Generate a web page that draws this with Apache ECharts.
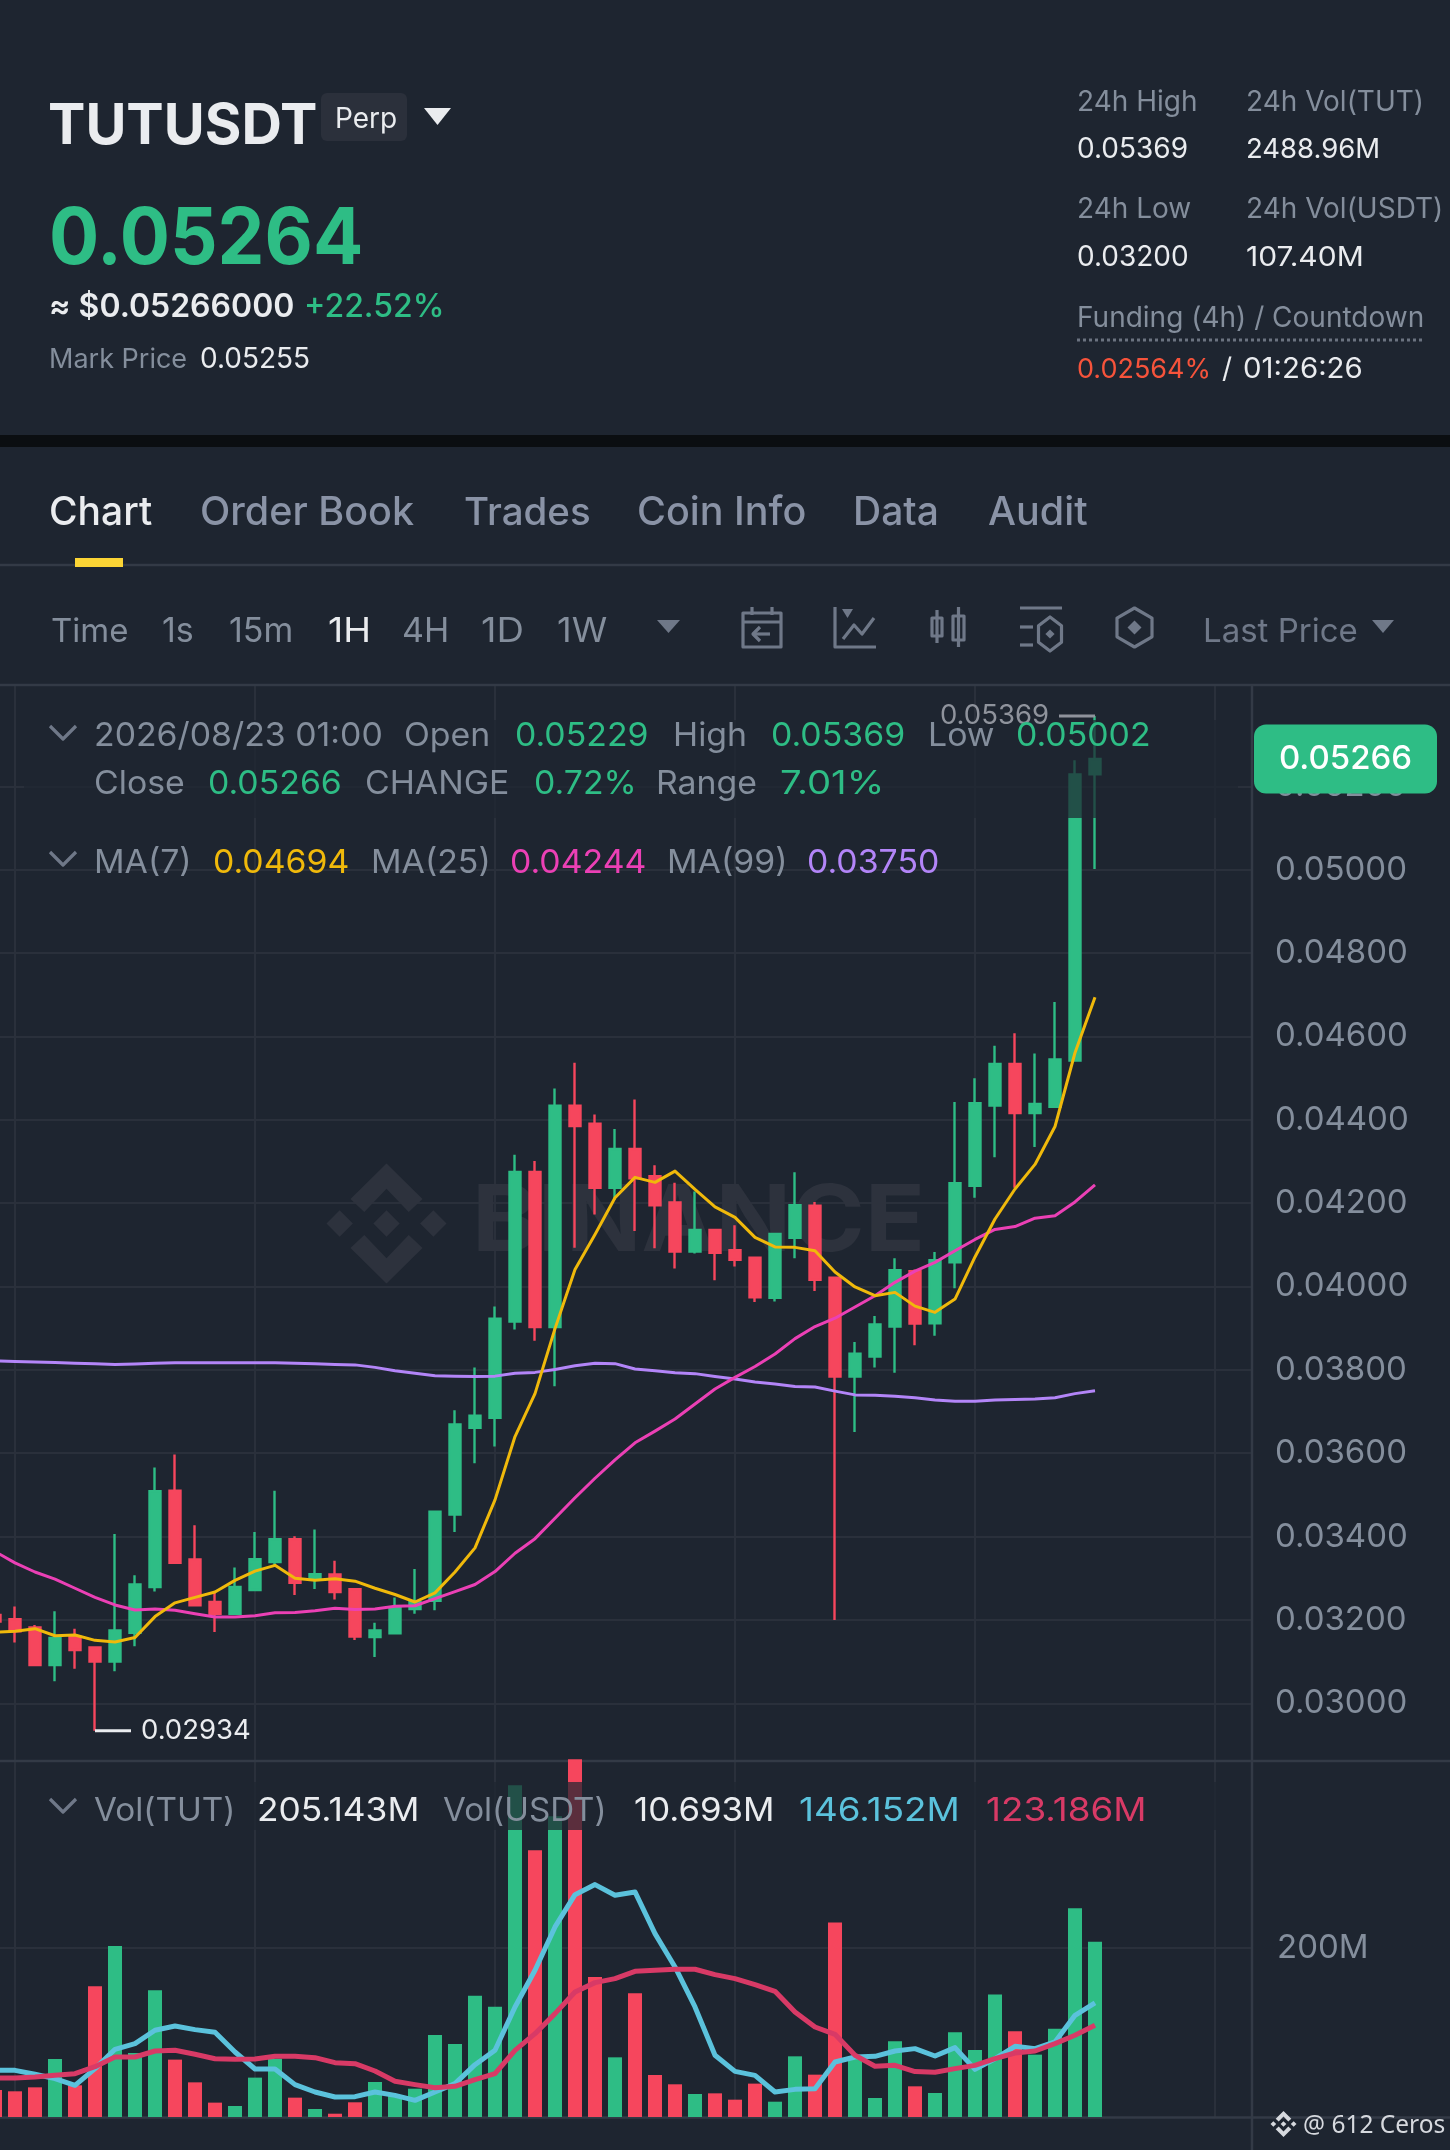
<!DOCTYPE html>
<html><head><meta charset="utf-8">
<style>html,body{margin:0;padding:0;background:#1E2530}#c{width:1450px;height:2150px}</style>
<script src="https://cdn.jsdelivr.net/npm/echarts@6/dist/echarts.min.js"></script>
</head><body><div id="c"></div>
<script>
// ---------- data ----------
const slots = [-1,0,1,2,3,4,5,6,7,8,9,10,11,12,13,14,15,16,17,18,19,20,21,22,23,24,25,26,27,28,29,30,31,32,33,34,35,36,37,38,39,40,41,42,43,44,45,46,47,48,49,50,51,52,53,54];
const opens = [.03212,.03202,.03182,.03092,.03159,.03134,.03100,.03169,.03279,.03510,.03345,.03243,.03215,.03272,.03339,.03394,.03298,.03309,.03274,.03159,.03168,.03226,.03246,.03453,.03661,.03685,.03916,.04275,.03903,.04434,.04391,.04237,.04330,.04265,.04202,.04084,.04136,.04087,.04069,.03973,.04117,.04194,.04021,.03784,.03832,.03904,.04037,.03912,.04058,.04242,.04434,.04534,.04416,.04431,.04542,.05229];
const closes = [.03196,.03173,.03092,.03157,.03128,.03100,.03175,.03285,.03509,.03337,.03235,.03215,.03279,.03346,.03394,.03289,.03310,.03267,.03160,.03175,.03229,.03243,.03460,.03669,.03690,.03923,.04275,.03903,.04434,.04385,.04237,.04330,.04260,.04195,.04084,.04136,.04081,.04064,.03974,.04126,.04195,.04016,.03784,.03839,.03909,.04039,.03911,.04063,.04248,.04440,.04534,.04416,.04438,.04545,.05229,.05266];
const lows = [.0318,.03146,.03091,.03053,.03083,.02934,.03077,.03137,.03268,.03337,.03232,.03171,.03212,.03272,.03329,.03260,.03274,.03249,.03152,.03111,.03168,.03215,.03223,.03411,.03576,.03616,.03897,.03870,.03761,.04093,.04173,.04208,.04133,.04092,.04043,.04079,.04015,.04048,.03963,.03964,.04068,.03989,.03200,.03651,.03806,.03793,.03859,.03882,.03996,.04213,.04310,.04237,.04335,.04431,.04542,.05002];
const highs = [.0322,.03232,.03188,.03221,.03179,.03134,.03406,.03307,.03566,.03597,.03427,.03265,.03326,.03411,.03510,.03401,.03417,.03342,.03274,.03193,.03254,.03322,.03460,.03703,.03806,.03952,.04316,.04301,.04475,.04537,.04413,.04378,.04449,.04291,.04249,.04228,.04136,.04147,.04069,.04126,.04274,.04203,.04022,.03867,.03929,.04068,.04041,.04083,.04443,.04500,.04578,.04608,.04559,.04683,.05263,.05369];
const ma7 = [.03170,.03173,.03179,.03162,.03164,.03151,.03147,.03158,.03208,.03241,.03254,.03267,.03295,.03317,.03331,.03300,.03295,.03299,.03293,.03276,.03261,.03243,.03265,.03315,.03373,.03488,.03640,.03743,.03899,.04041,.04125,.04213,.04262,.04250,.04277,.04233,.04191,.04166,.04118,.04095,.04094,.04086,.04035,.03999,.03978,.03986,.03953,.03938,.03970,.04071,.04162,.04234,.04293,.04384,.04561,.04694];
const ma25 = [.03364,.03337,.03315,.03298,.03276,.03254,.03236,.03224,.03226,.03223,.03215,.03207,.03207,.03210,.03217,.03218,.03222,.03228,.03225,.03226,.03233,.03234,.03251,.03268,.03285,.03316,.03360,.03395,.03444,.03493,.03540,.03584,.03625,.03653,.03682,.03718,.03754,.03782,.03808,.03838,.03875,.03904,.03924,.03951,.03978,.04010,.04037,.04058,.04086,.04113,.04137,.04144,.04164,.04170,.04203,.04244];
const ma99 = [.03822,.03820,.03819,.03818,.03816,.03815,.03813,.03814,.03816,.03817,.03817,.03817,.03817,.03817,.03817,.03816,.03815,.03813,.03812,.03806,.03798,.03792,.03786,.03785,.03784,.03785,.03792,.03794,.03801,.03810,.03816,.03815,.03802,.03798,.03793,.03791,.03784,.03778,.03771,.03766,.03760,.03759,.03749,.03740,.03739,.03737,.03733,.03728,.03725,.03725,.03728,.03729,.03730,.03733,.03743,.03750];
const volumes = [32,30.4,35.1,68.6,37.5,154.6,202.4,75.7,149.9,67.9,41,17,13,46.6,69,22.9,9.5,3.9,17.4,41.4,25.6,33.5,97,86.4,143.6,130.6,392.5,315.6,355.8,423.3,165.7,70.6,146.4,49.7,38.7,27.2,28,20.5,39.5,18.1,71.8,50.1,230,69,22.5,89.6,36.3,28.4,100.2,79.3,144.8,101.4,73.8,104.5,247,207.5];
const volMaFast = [55.2,55.2,50.5,45.4,37.5,57.2,80.1,86.8,102.6,107.7,103.4,100.2,76.9,56.8,56.8,38.3,29.6,23.7,24.1,29.6,25.6,19.7,29.6,39.5,61.9,78.9,130.2,173.6,224.9,263.1,275,262.3,266.3,217,177.5,130.2,73,54,49.3,29.6,32.7,33.5,65.1,71,71.8,78.1,80.9,72.2,82.1,56.4,69,83.6,80.9,88.8,120.3,134.9];
const volMaSlow = [46.2,46.2,47.3,49.3,51.3,59.6,71,71,78.1,78.9,74.2,69,68.2,68.6,71.8,71.8,70.2,64.3,63.1,54.4,42.2,38.3,34.7,36.3,44.2,51.3,78.9,98.6,122.3,147.9,159,163.7,172.4,173.6,174.8,174.8,168.5,163.7,156.6,148.7,124.3,106.5,97.8,73,60,61.1,53.7,52.9,57.2,61.1,69,75.7,78.1,86.8,96.7,108.5];
const priceTicks = [.03,.032,.034,.036,.038,.04,.042,.044,.046,.048,.05,.052];
const volumeTicks = [200];
const timeTicks = [0,12,24,36,48,60];
const lastClose = .05266, highMark = [54,.05369], lowMark = [4,.02934];

// ---------- style ----------
const FONT='Inter', GREEN='#2EBD85', RED='#F6465D', GRAY='#848E9C', WHITE='#EAECEF', BG='#1E2530', GRID='#2A303B', SEP='#333A46';
const ICON='#6F7888', TAB='#8A93A6';
const C={orange:'#F0B90B',pink:'#EB40B5',purple:'#B385F8',blue:'#5BC2DC',crimson:'#D83A66'};

const T=(x,base,text,size,fill,weight,sx,extra)=>({type:'text',x,y:base-size*.30,silent:true,z:60,scaleX:sx||1,
  style:Object.assign({text,fill,fontSize:size,fontWeight:weight||400,fontFamily:FONT,textVerticalAlign:'middle',textAlign:'left'},extra||{})});
const LG=(x,base,text,fill,sx)=>T(x,base,text,33,fill,400,sx||1.025);
const L=(x1,y1,x2,y2,stroke,w,z,extra)=>({type:'line',silent:true,z:z==null?60:z,shape:{x1,y1,x2,y2},style:Object.assign({stroke,lineWidth:w},extra||{})});
const R=(x,y,w,h,fill,z,r)=>({type:'rect',silent:true,z:z==null?60:z,shape:{x,y,width:w,height:h,r:r||0},style:{fill}});
const P=(pts,fill,z)=>({type:'polygon',silent:true,z:z==null?60:z,shape:{points:pts},style:{fill}});
const PL=(pts,stroke,w,z)=>({type:'polyline',silent:true,z:z==null?60:z,shape:{points:pts},style:{stroke,lineWidth:w,fill:'none',lineJoin:'round'}});
const SO=(pts,stroke,w)=>({type:'polygon',silent:true,z:60,shape:{points:pts},style:{stroke,lineWidth:w,fill:'none',lineJoin:'round'}});
const TRI=(x1,x2,y1,y2,fill)=>P([[x1,y1],[x2,y1],[(x1+x2)/2,y2]],fill);
const CHEV=(x1,x2,y1,y2)=>PL([[x1,y1],[(x1+x2)/2,y2],[x2,y1]],ICON,3.2);
function logo(cx,cy,rx,ry,fill,z){
  const m=(a)=>a.map(p=>[cx+p[0]*rx,cy+p[1]*ry]);
  const d=(x,h)=>m([[x,-h],[x+h,0],[x,h],[x-h,0]]);
  const top=[[0,-1],[.6,-.41],[.37,-.19],[0,-.58],[-.37,-.19],[-.6,-.41]];
  return [P(m(top),fill,z),P(m(top.map(p=>[p[0],-p[1]])),fill,z),P(d(0,.22),fill,z),P(d(-.78,.22),fill,z),P(d(.78,.22),fill,z)];
}
function hexIcon(cx,cy,w,h,lw){
  const a=w/2,b=h/2,c=h*.24;
  return [SO([[cx,cy-b],[cx+a,cy-c],[cx+a,cy+c],[cx,cy+b],[cx-a,cy+c],[cx-a,cy-c]],ICON,lw),
          P([[cx,cy-w*.2],[cx+w*.2,cy],[cx,cy+w*.2],[cx-w*.2,cy]],ICON)];
}

const statics=[
  // structure
  R(0,435,1450,12,'#0B0E11',1),
  L(0,565,1450,565,SEP,2.5,1), L(0,685,1450,685,SEP,2.5,1), L(0,1761,1450,1761,SEP,2.5,1), L(0,2117.5,1450,2117.5,SEP,2.5,1),
  L(1252,685,1252,2150,SEP,2.5,1),
  // watermark
  ...logo(386.5,1223.5,60,60,'#2D323D',1),
  {type:'text',x:472,y:1223.5,silent:true,z:1,scaleX:1.08,style:{text:'BINANCE',fontSize:92,fontWeight:700,fontFamily:FONT,fill:'#2D323D',textVerticalAlign:'middle'}},
  // overlays behind the legend text
  R(24,720,1214,98,'rgba(30,37,48,.72)',50), R(24,1782,1214,48,'rgba(30,37,48,.72)',50),
  // header
  T(48,144,'TUTUSDT',56,WHITE,700),
  R(321,93,86,48,'#2B303B',59,6), T(335,128,'Perp',28,WHITE,400),
  TRI(424,451,108,125,WHITE),
  T(49,264,'0.05264',78,GREEN,700,.955),
  T(49,317,'≈ $0.05266000',32,WHITE,600), T(304,317,'+22.52%',32,GREEN,500),
  T(49,368,'Mark Price',27,GRAY), T(200,368,'0.05255',28,WHITE),
  T(1077,111,'24h High',28,GRAY), T(1246,111,'24h Vol(TUT)',28,GRAY),
  T(1077,158,'0.05369',28,WHITE), T(1246,158,'2488.96M',27.5,WHITE),
  T(1077,218,'24h Low',28,GRAY), T(1246,218,'24h Vol(USDT)',28,GRAY),
  T(1077,266,'0.03200',28,WHITE), T(1246,266,'107.40M',27.5,WHITE,400,1.09),
  T(1077,327,'Funding (4h) / Countdown',28,GRAY),
  L(1077,340,1422,340,'#6B7380',3,60,{lineDash:[3,3]}),
  T(1077,378,'0.02564%',27,'#F6533B'), T(1222,378,'/',28,WHITE), T(1243,378,'01:26:26',28,WHITE,400,1.05),
  // tabs
  T(49,525,'Chart',39,WHITE,500), T(200,525,'Order Book',39.5,TAB,500), T(464,525,'Trades',38.5,TAB,500),
  T(637,525,'Coin Info',39.5,TAB,500), T(853,525,'Data',39,TAB,500), T(988,525,'Audit',39.5,TAB,500),
  R(75,558,48,9,'#FCD535',2),
  // toolbar
  T(51,642,'Time',33,GRAY), T(162,642,'1s',34,GRAY), T(229,642,'15m',34,GRAY), T(328,642,'1H',34,WHITE,400,1.1),
  T(402,642,'4H',34,GRAY), T(481,642,'1D',34,GRAY,400,1.12), T(557,642,'1W',34,GRAY,400,1.06),
  TRI(657,680,620,633,ICON),
  T(1203,642,'Last Price',33,ICON), TRI(1372,1394,620,633,ICON),
  // calendar icon
  SO([[743,613],[781,613],[781,647],[743,647]],ICON,3.2), L(743,622,781,622,ICON,3.2), L(752,607,752,615,ICON,3.2), L(772,607,772,615,ICON,3.2),
  PL([[770,634],[754,634]],ICON,3.2), PL([[760,627],[753,634],[760,641]],ICON,3.2),
  // indicator icon
  PL([[835,607],[835,647],[876,647]],ICON,3.2), PL([[843,639],[854,625],[862,634],[874,618]],ICON,3.2), TRI(842,853,609,618,ICON),
  // candle icon
  SO([[932,618],[942,618],[942,636],[932,636]],ICON,3.2), L(937,610,937,643,ICON,3.2),
  SO([[953,616],[964,616],[964,640],[953,640]],ICON,3.2), L(958.5,607,958.5,647,ICON,3.2),
  // settings icon
  L(1020,608,1062,608,ICON,3.2), L(1020,627,1033,627,ICON,3.2), L(1020,645,1033,645,ICON,3.2), ...hexIcon(1050,634,23,34,3.2),
  // hex icon
  ...hexIcon(1134.5,627.5,35,39,3.2),
  // kline legend
  CHEV(50,76,726,739),
  LG(94,746,'2026/08/23 01:00',GRAY), LG(404,746,'Open',GRAY), LG(515,746,'0.05229',GREEN),
  LG(673,746,'High',GRAY), LG(771,746,'0.05369',GREEN), LG(928,746,'Low',GRAY), LG(1016,746,'0.05002',GREEN),
  LG(94,794,'Close',GRAY), LG(208,794,'0.05266',GREEN), LG(365,794,'CHANGE',GRAY), LG(534,794,'0.72%',GREEN),
  LG(656,794,'Range',GRAY), LG(780,794,'7.01%',GREEN,1.16),
  CHEV(50,76,852,865),
  LG(94,873,'MA(7)',GRAY), LG(213,873,'0.04694',C.orange), LG(371,873,'MA(25)',GRAY), LG(510,873,'0.04244',C.pink),
  LG(667,873,'MA(99)',GRAY), LG(807,873,'0.03750',C.purple),
  // volume legend
  CHEV(50,76,1799,1812),
  LG(94,1821,'Vol(TUT)',GRAY,1.01), LG(257,1821,'205.143M',WHITE,1.07), LG(443,1821,'Vol(USDT)',GRAY,1.005), LG(634,1821,'10.693M',WHITE,1.055),
  LG(799,1821,'146.152M',C.blue,1.115), LG(986,1821,'123.186M',C.crimson,1.115),
  // footer
  ...logo(1283.5,2124,13,13,'#D6D9DE',60),
  T(1303,2133,'@ 612 Ceros',24.5,'#D6D9DE',400,1,{fontFamily:'Noto Sans'})
];

const candleData=slots.map((k,i)=>[k,opens[i],closes[i],lows[i],highs[i]]);
const volumeData=slots.map((k,i)=>({value:[k,volumes[i]],itemStyle:{color:closes[i]>=opens[i]?GREEN:RED}}));
const pair=(arr)=>slots.map((k,i)=>[k,arr[i]]);
const lineS=(name,arr,color,w,xi,yi)=>({name,type:'line',data:pair(arr),xAxisIndex:xi,yAxisIndex:yi,showSymbol:false,smooth:false,z:4,silent:true,
  lineStyle:{color,width:w,join:'round'},itemStyle:{color},animation:false});
const xAx=(gi)=>({type:'value',gridIndex:gi,min:-0.75,max:61.85,axisLine:{show:false},
  axisTick:{show:false,customValues:timeTicks},axisLabel:{show:false,customValues:timeTicks},
  splitLine:{show:true,lineStyle:{color:GRID,width:2}}});
const mark=(coord,text,color,position)=>({coord,value:text,symbol:'circle',symbolSize:0,
  label:{show:true,position,distance:0,color,formatter:position==='left'?'{t|'+text+'}{g| }{l| }':'{l| }{g| }{t|'+text+'}',
    rich:{t:{fontSize:27.5,fontFamily:FONT,color},g:{width:10},l:{width:36,height:3,backgroundColor:color}}}});

const option={
  animation:false,backgroundColor:BG,
  grid:[{left:0,width:1252,top:685,height:1076},{left:0,width:1252,top:1759,height:358}],
  xAxis:[xAx(0),xAx(1)],
  yAxis:[
    {type:'value',gridIndex:0,position:'right',scale:true,min:.028615,max:.054434,axisLine:{show:false},
     axisTick:{show:false,customValues:priceTicks},
     axisLabel:{color:GRAY,fontSize:33,fontFamily:FONT,margin:23,customValues:priceTicks,padding:[0,0,4,0],formatter:v=>v.toFixed(5)},
     splitLine:{show:true,lineStyle:{color:GRID,width:2}}},
    {type:'value',gridIndex:1,position:'right',min:0,max:423.6,axisLine:{show:false},
     axisTick:{show:false,customValues:volumeTicks},
     axisLabel:{color:GRAY,fontSize:33,fontFamily:FONT,margin:25,customValues:volumeTicks,formatter:v=>v+'M'},
     splitLine:{show:true,lineStyle:{color:GRID,width:2}}}
  ],
  graphic:{elements:statics},
  series:[
    {name:'Price',type:'candlestick',xAxisIndex:0,yAxisIndex:0,data:candleData,barWidth:12,silent:true,z:2,
     encode:{x:0,y:[1,2,3,4]},
     itemStyle:{color:GREEN,color0:RED,borderColor:GREEN,borderColor0:RED,borderWidth:2.4},
     markPoint:{silent:true,z:55,data:[mark(highMark,highMark[1].toFixed(5),'#8F939C','left'),mark(lowMark,lowMark[1].toFixed(5),WHITE,'right')]}},
    lineS('MA(99)',ma99,C.purple,3,0,0),
    lineS('MA(25)',ma25,C.pink,3,0,0),
    lineS('MA(7)',ma7,C.orange,3,0,0),
    {name:'Vol',type:'bar',xAxisIndex:1,yAxisIndex:1,data:volumeData,barWidth:14,silent:true,z:2},
    lineS('Vol MA fast',volMaFast,C.blue,5,1,1),
    lineS('Vol MA slow',volMaSlow,C.crimson,5,1,1)
  ]
};
const chart=echarts.init(document.getElementById('c'),null,{width:1450,height:2150});
chart.setOption(option);
const tagY=chart.convertToPixel({yAxisIndex:0},lastClose);
chart.setOption({graphic:{elements:[
  Object.assign(R(1254,tagY-34.5,183,69,GREEN,60,12),{id:'tagBox'}),
  Object.assign(T(1345.5,tagY+10,lastClose.toFixed(5),33,'#FFFFFF',500,1,{textAlign:'center'}),{id:'tagText'})
]}});
</script></body></html>
